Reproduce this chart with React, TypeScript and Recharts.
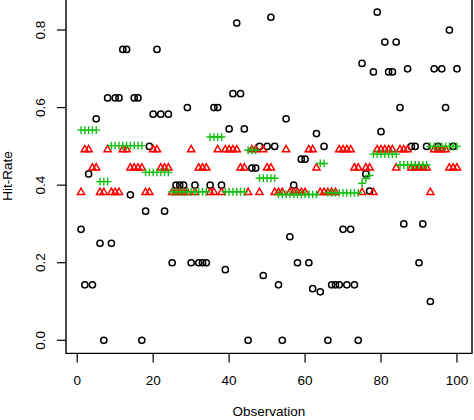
import { ReferenceArea, Scatter, ScatterChart, XAxis, YAxis } from 'recharts';

// observation numbers (x)
const observations = [
  1, 2, 3, 4, 5, 6, 7, 8, 9, 10, 11, 12, 13, 14, 15, 16, 17, 18, 19, 20,
  21, 22, 23, 24, 25, 26, 27, 28, 29, 30, 31, 32, 33, 34, 35, 36, 37, 38, 39, 40,
  41, 42, 43, 44, 45, 46, 47, 48, 49, 50, 51, 52, 53, 54, 55, 56, 57, 58, 59, 60,
  61, 62, 63, 64, 65, 66, 67, 68, 69, 70, 71, 72, 73, 74, 75, 76, 77, 78, 79, 80,
  81, 82, 83, 84, 85, 86, 87, 88, 89, 90, 91, 92, 93, 94, 95, 96, 97, 98, 99, 100,
];

// black circles
const hitRate = [
  0.286, 0.143, 0.429, 0.143, 0.571, 0.25, 0, 0.625, 0.25, 0.625,
  0.625, 0.75, 0.75, 0.375, 0.625, 0.625, 0, 0.333, 0.5, 0.583,
  0.75, 0.583, 0.333, 0.583, 0.2, 0.4, 0.4, 0.4, 0.6, 0.2,
  0.4, 0.2, 0.2, 0.2, 0.4, 0.6, 0.6, 0.4, 0.182, 0.545,
  0.636, 0.818, 0.636, 0.545, 0, 0.444, 0.444, 0.5, 0.167, 0.5,
  0.833, 0.5, 0.143, 0, 0.571, 0.267, 0.4, 0.2, 0.467, 0.467,
  0.2, 0.133, 0.533, 0.125, 0.5, 0, 0.143, 0.143, 0.143, 0.286,
  0.143, 0.286, 0.143, 0, 0.714, 0.429, 0.385, 0.692, 0.846, 0.538,
  0.769, 0.692, 0.692, 0.769, 0.6, 0.3, 0.7, 0.5, 0.5, 0.2,
  0.3, 0.5, 0.1, 0.7, 0.5, 0.7, 0.6, 0.8, 0.5, 0.7,
];

// red triangles
const redRate = [
  0.382, 0.492, 0.492, 0.445, 0.445, 0.382, 0.382, 0.492, 0.382, 0.382,
  0.382, 0.492, 0.492, 0.445, 0.445, 0.445, 0.445, 0.382, 0.382, 0.492,
  0.492, 0.445, 0.445, 0.445, 0.382, 0.382, 0.382, 0.382, 0.382, 0.492,
  0.382, 0.445, 0.445, 0.445, 0.382, 0.382, 0.492, 0.382, 0.492, 0.492,
  0.492, 0.492, 0.445, 0.445, 0.382, 0.492, 0.492, 0.382, 0.492, 0.445,
  0.445, 0.382, 0.382, 0.382, 0.492, 0.382, 0.382, 0.382, 0.382, 0.382,
  0.492, 0.492, 0.445, 0.382, 0.382, 0.382, 0.382, 0.382, 0.492, 0.492,
  0.492, 0.492, 0.445, 0.445, 0.382, 0.445, 0.445, 0.382, 0.492, 0.492,
  0.492, 0.492, 0.492, 0.445, 0.492, 0.492, 0.492, 0.445, 0.445, 0.445,
  0.445, 0.445, 0.382, 0.492, 0.492, 0.492, 0.492, 0.445, 0.445, 0.445,
];

// green pluses
const greenRate = [
  0.542, 0.542, 0.542, 0.542, 0.542, 0.409, 0.409, 0.409, 0.502, 0.502,
  0.502, 0.502, 0.502, 0.502, 0.502, 0.502, 0.502, 0.433, 0.433, 0.433,
  0.433, 0.433, 0.433, 0.433, 0.383, 0.383, 0.383, 0.383, 0.383, 0.383,
  0.383, 0.383, 0.383, 0.383, 0.524, 0.524, 0.524, 0.524, 0.383, 0.383,
  0.383, 0.383, 0.383, 0.383, 0.49, 0.49, 0.49, 0.418, 0.418, 0.418,
  0.418, 0.418, 0.376, 0.376, 0.376, 0.376, 0.376, 0.376, 0.376, 0.376,
  0.376, 0.376, 0.376, 0.456, 0.456, 0.38, 0.38, 0.38, 0.38, 0.38,
  0.38, 0.38, 0.38, 0.38, 0.405, 0.417, 0.425, 0.48, 0.48, 0.48,
  0.48, 0.48, 0.48, 0.48, 0.452, 0.452, 0.452, 0.452, 0.452, 0.452,
  0.452, 0.452, 0.5, 0.5, 0.5, 0.5, 0.5, 0.5, 0.5, 0.5,
];

const xTicks = [0, 20, 40, 60, 80, 100];
const yTicks = [0, 0.2, 0.4, 0.6, 0.8];

const X_DOMAIN: [number, number] = [-2.96, 103.96];
const Y_DOMAIN: [number, number] = [-0.0338, 0.88];
const FONT = '"Liberation Sans", Arial, sans-serif';

const circleData = observations.map((x, i) => ({ x, y: hitRate[i] }));
const redData = observations.map((x, i) => ({ x, y: redRate[i] }));
const greenData = observations.map((x, i) => ({ x, y: greenRate[i] }));

const OpenCircle = (p: any) => (
  <circle cx={p.cx} cy={p.cy} r={3.1} fill="none" stroke="#000" strokeWidth={1.5} />
);

const OpenTriangle = (p: any) => {
  const { cx, cy } = p;
  return (
    <polygon
      points={`${cx},${cy - 4} ${cx - 3.6},${cy + 2.3} ${cx + 3.6},${cy + 2.3}`}
      fill="none"
      stroke="#ff0000"
      strokeWidth={1.5}
    />
  );
};

const Plus = (p: any) => {
  const { cx, cy } = p;
  return (
    <path
      d={`M${cx - 3.9},${cy}H${cx + 3.9}M${cx},${cy - 3.9}V${cy + 3.9}`}
      stroke="#10c010"
      strokeWidth={1.4}
      fill="none"
    />
  );
};

const XTick = (p: any) => (
  <text x={p.x} y={387} textAnchor="middle" fontFamily={FONT} fontSize={13.5} fill="#000">
    {p.payload.value}
  </text>
);

const YTick = (p: any) => (
  <text
    x={45}
    y={p.y}
    transform={`rotate(-90 45 ${p.y})`}
    textAnchor="middle"
    fontFamily={FONT}
    fontSize={13.5}
    fill="#000"
  >
    {p.payload.value.toFixed(1)}
  </text>
);

export default function App() {
  return (
    <div style={{ position: 'absolute', left: 0, top: -2, width: 474, height: 422, background: '#fff' }}>
      <ScatterChart width={474} height={422} margin={{ top: 1, right: 2, bottom: 0, left: 0 }}>
        <XAxis
          type="number"
          dataKey="x"
          domain={X_DOMAIN}
          ticks={xTicks}
          allowDataOverflow
          axisLine={false}
          tickLine={{ stroke: '#000', strokeWidth: 1.2 }}
          tickSize={9}
          height={66.6}
          tick={<XTick />}
          label={{
            content: () => (
              <text x={269} y={418} textAnchor="middle" fontFamily={FONT} fontSize={13.5} fill="#000">
                Observation
              </text>
            ),
          }}
        />
        <YAxis
          type="number"
          dataKey="y"
          domain={Y_DOMAIN}
          ticks={yTicks}
          allowDataOverflow
          axisLine={false}
          tickLine={{ stroke: '#000', strokeWidth: 1.2 }}
          tickSize={9}
          width={66}
          tick={<YTick />}
          label={{
            content: () => (
              <text
                x={11.5}
                y={178}
                transform="rotate(-90 11.5 178)"
                textAnchor="middle"
                fontFamily={FONT}
                fontSize={13.5}
                fill="#000"
              >
                Hit-Rate
              </text>
            ),
          }}
        />
        <ReferenceArea
          x1={X_DOMAIN[0]}
          x2={X_DOMAIN[1]}
          y1={Y_DOMAIN[0]}
          y2={Y_DOMAIN[1]}
          fill="none"
          stroke="#000"
          strokeWidth={1.4}
          ifOverflow="visible"
        />
        <Scatter data={circleData} shape={OpenCircle} isAnimationActive={false} />
        <Scatter data={redData} shape={OpenTriangle} isAnimationActive={false} />
        <Scatter data={greenData} shape={Plus} isAnimationActive={false} />
      </ScatterChart>
    </div>
  );
}
